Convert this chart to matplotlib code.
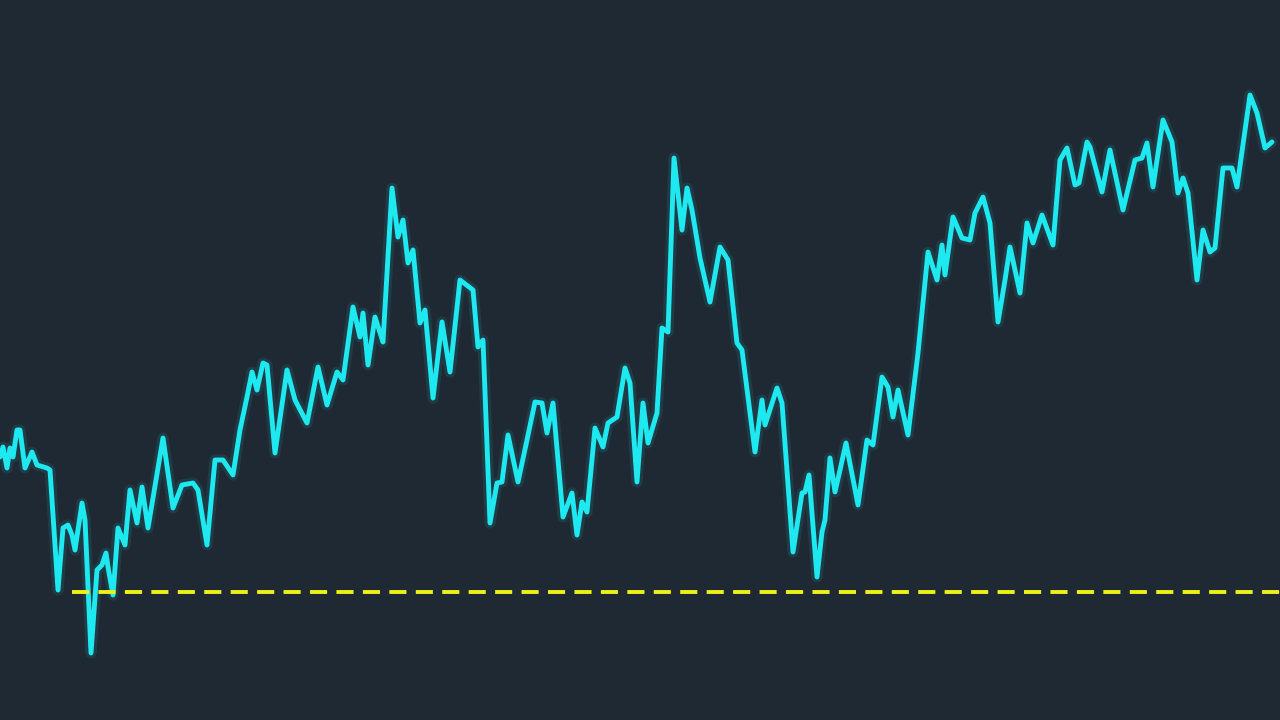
import matplotlib
matplotlib.use("Agg")
import matplotlib.pyplot as plt

# price path (time index, price)
days = [0, 3, 7, 10, 13, 17, 20, 25, 32, 37,
        47, 50, 58, 63, 68, 72, 75, 82, 85, 91,
        97, 102, 106, 108, 113, 118, 125, 130, 137, 142,
        148, 153, 163, 173, 182, 193, 198, 207, 215, 223,
        233, 240, 247, 252, 257, 263, 267, 275, 287, 295,
        307, 318, 327, 337, 343, 353, 360, 363, 368, 375,
        383, 392, 398, 403, 408, 413, 420, 425, 433, 442,
        450, 460, 473, 478, 483, 490, 497, 502, 508, 518,
        527, 535, 542, 547, 553, 563, 572, 577, 582, 587,
        595, 603, 608, 617, 625, 630, 637, 643, 648, 657,
        662, 668, 674, 682, 687, 692, 700, 710, 720, 728,
        737, 742, 755, 762, 765, 777, 782, 793, 802, 805,
        809, 817, 822, 825, 830, 835, 840, 846, 858, 867,
        873, 882, 888, 893, 898, 908, 918, 928, 937, 942,
        945, 953, 962, 970, 975, 983, 990, 998, 1005, 1010,
        1020, 1027, 1033, 1042, 1053, 1060, 1067, 1075, 1079, 1087,
        1090, 1102, 1110, 1123, 1135, 1142, 1147, 1153, 1163, 1172,
        1178, 1183, 1188, 1197, 1203, 1210, 1215, 1223, 1232, 1237,
        1250, 1257, 1265, 1272]
price = [26.3, 27.3, 25.2, 27.2, 26.3, 29.0, 29.0, 25.2, 26.8, 25.5,
         25.2, 25.0, 13.0, 19.2, 19.5, 18.5, 17.0, 21.7, 20.0, 6.7,
         15.0, 15.5, 16.7, 15.3, 12.5, 19.2, 17.5, 23.0, 19.7, 23.3,
         19.2, 22.2, 28.2, 21.2, 23.5, 23.7, 23.0, 17.5, 26.0, 26.0,
         24.5, 29.0, 32.3, 34.8, 33.0, 35.7, 35.5, 26.7, 35.0, 32.0,
         29.7, 35.3, 31.5, 34.8, 34.0, 41.3, 38.3, 40.7, 35.5, 40.3,
         37.8, 53.2, 48.3, 50.0, 45.7, 47.0, 39.7, 41.0, 32.2, 39.8,
         34.8, 44.0, 43.0, 37.3, 38.0, 19.7, 23.7, 23.8, 28.5, 23.8,
         28.0, 31.8, 31.7, 28.7, 31.7, 20.3, 22.7, 18.5, 21.8, 20.8,
         29.2, 27.3, 29.7, 30.3, 35.2, 33.7, 23.8, 31.7, 27.7, 30.7,
         39.2, 38.8, 56.2, 49.0, 53.2, 51.0, 46.2, 41.8, 47.3, 46.0,
         37.7, 37.0, 26.8, 32.0, 29.5, 33.2, 31.7, 16.8, 22.7, 22.8,
         24.5, 14.3, 18.8, 20.0, 26.2, 22.8, 25.0, 27.7, 21.5, 28.0,
         27.5, 34.3, 33.3, 30.3, 33.0, 28.5, 36.7, 46.8, 44.0, 47.5,
         44.5, 50.3, 48.2, 48.0, 50.7, 52.3, 49.7, 39.8, 44.0, 47.3,
         42.7, 49.7, 47.7, 50.5, 47.5, 56.0, 57.2, 53.5, 53.7, 57.8,
         57.3, 52.8, 57.0, 51.0, 56.0, 56.2, 57.7, 53.3, 60.0, 57.8,
         52.7, 54.2, 52.7, 44.0, 49.0, 46.8, 47.2, 55.2, 55.2, 53.3,
         62.5, 60.7, 57.2, 57.8]

support_level = 12.8
support_start = 72

bg = '#1f2933'
fig = plt.figure(figsize=(12.8, 7.2), dpi=100, facecolor=bg)
ax = fig.add_axes([0, 0, 1, 1])
ax.set_facecolor(bg)

# soft glow under the line
ax.plot(days, price, color='#1fe9f0', linewidth=8, alpha=0.10,
        solid_joinstyle='round', solid_capstyle='round')
ax.plot(days, price, color='#1fe9f0', linewidth=3.5,
        solid_joinstyle='round', solid_capstyle='round')

ax.hlines(support_level, support_start, 1280, colors='#eef01a',
          linewidth=2.8, linestyles=(0, (4.4, 2.4)))

ax.set_xlim(0, 1280)
ax.set_ylim(0, 72)
ax.axis('off')

fig.savefig('out.png', dpi=100, facecolor=bg)
